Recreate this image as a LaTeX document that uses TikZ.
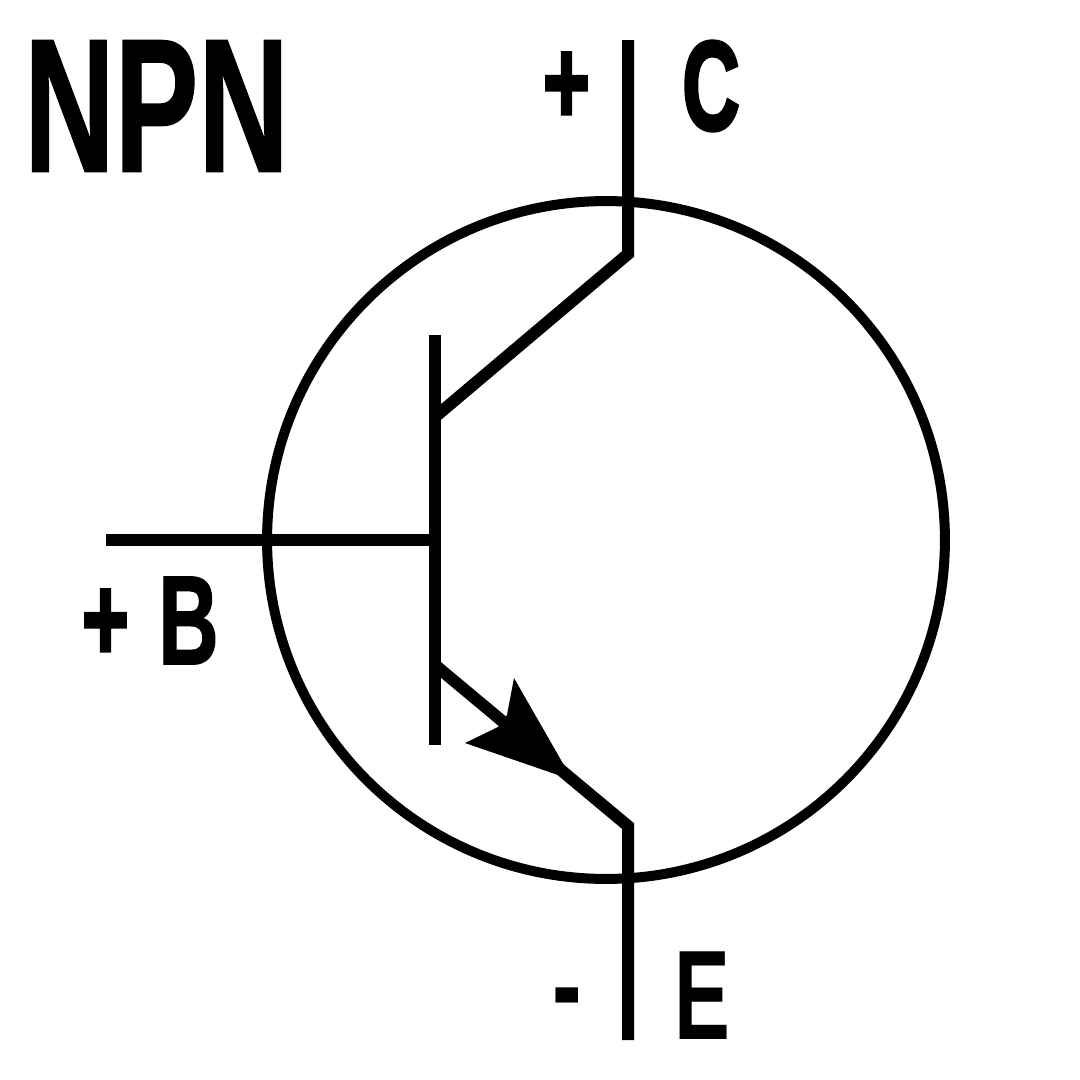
\documentclass[tikz,border=0pt]{standalone}
\usepackage{fontspec}
\setmainfont{Liberation Sans}[BoldFont={Liberation Sans Bold}]
\newfontface\heavyone{Liberation Sans Bold}[FakeBold=1]
\newfontface\heavytwo{Liberation Sans Bold}[FakeBold=1.5]
\newfontface\heavythree{Liberation Sans Bold}[FakeBold=3]
\begin{document}
\begin{tikzpicture}[x=0.02cm,y=-0.02cm,
  wire/.style={line width=0.24cm,line join=miter,draw=black},
  lab/.style={inner sep=0pt,outer sep=0pt,font=\bfseries,text=black}]
\useasboundingbox[fill=white] (0,0) rectangle (1080,1080);
\coordinate (ctr) at (606,540);
\node[draw=black,line width=0.2cm,circle,minimum size=13.56cm,inner sep=0pt] (ring) at (ctr) {};
\coordinate (ctop) at (628,40);
\coordinate (cknee) at (628,254);
\coordinate (bartop) at (435,335);
\coordinate (barbot) at (435,745);
\coordinate (cjoin) at (435,417);
\coordinate (ejoin) at (435,665);
\coordinate (eknee) at (628,826);
\coordinate (ebot) at (628,1040);
\coordinate (bfree) at (106,540);
\coordinate (bjoin) at (430,540);
\draw[wire] (ctop) -- (cknee) -- (cjoin);
\draw[wire] (bartop) -- (barbot);
\draw[wire] (ejoin) -- (eknee) -- (ebot);
\draw[wire] (bfree) -- (bjoin);
\fill[black] (514,678) -- (507,715) -- (498,727) -- (465,743) -- (558,775) -- (565,767) -- cycle;
\node[lab] (npn) at (156.5,106) {\heavyone\fontsize{3.8cm}{3.8cm}\selectfont\scalebox{0.66}[1]{NPN}};
\node[lab] (plusc) at (566.5,88) {\heavythree\fontsize{2.4cm}{2.4cm}\selectfont\scalebox{0.67}[1]{+}};
\node[lab] (cl) at (711,86) {\heavythree\fontsize{2.53cm}{2.53cm}\selectfont\scalebox{0.63}[1]{C}};
\node[lab] (plusb) at (105.5,625) {\heavythree\fontsize{2.4cm}{2.4cm}\selectfont\scalebox{0.67}[1]{+}};
\node[lab] (bl) at (188.5,620.5) {\heavytwo\fontsize{2.53cm}{2.53cm}\selectfont\scalebox{0.66}[1]{B}};
\node[lab] (el) at (702.5,996) {\fontsize{2.55cm}{2.55cm}\selectfont\scalebox{0.656}[1]{E}};
\node[lab] (minus) at (567,1008.5) {\fontsize{2.55cm}{2.55cm}\selectfont\scalebox{0.696}[1]{-}};
\end{tikzpicture}
\end{document}
